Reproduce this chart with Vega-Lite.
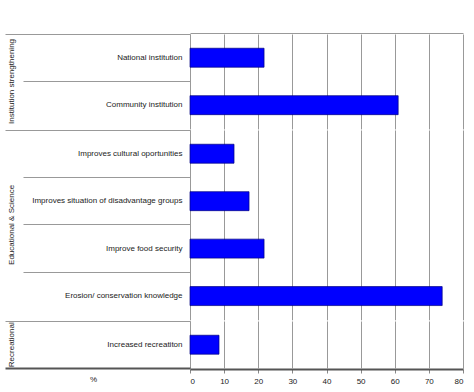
{
  "$schema": "https://vega.github.io/schema/vega-lite/v6.json",
  "padding": {"left": 4, "top": 33, "right": 5, "bottom": 5},
  "background": "white",
  "config": {
    "view": {"stroke": null},
    "font": "Liberation Sans",
    "axis": {"labelFont": "Liberation Sans", "titleFont": "Liberation Sans"}
  },
  "data": {
    "values": [
      {"group": "Institution strengthening", "item": "National institution", "value": 21.7},
      {"group": "Institution strengthening", "item": "Community institution", "value": 61.0},
      {"group": "Educational & Science", "item": "Improves cultural oportunities", "value": 12.9},
      {"group": "Educational & Science", "item": "Improves situation of disadvantage groups", "value": 17.3},
      {"group": "Educational & Science", "item": "Improve food security", "value": 21.7},
      {"group": "Educational & Science", "item": "Erosion/ conservation knowledge", "value": 73.9},
      {"group": "Recreational", "item": "Increased recreatiton", "value": 8.5}
    ]
  },
  "facet": {
    "row": {
      "field": "group",
      "type": "nominal",
      "sort": ["Institution strengthening", "Educational & Science", "Recreational"],
      "title": null,
      "header": {
        "labelAngle": -90,
        "labelOrient": "left",
        "labelPadding": -16,
        "labelFont": "Liberation Sans",
        "labelFontSize": 8,
        "labelColor": "#222"
      }
    }
  },
  "spacing": {"row": 0},
  "resolve": {"scale": {"y": "independent"}},
  "spec": {
    "width": 273,
    "height": {"step": 47.45},
    "layer": [
      {
        "mark": {"type": "bar", "color": "#0000FF", "stroke": "#000080", "strokeWidth": 0.7, "height": {"band": 0.4}},
        "encoding": {
          "x": {
            "field": "value",
            "type": "quantitative",
            "scale": {"domain": [0, 80], "nice": false},
            "axis": {
              "orient": "bottom",
              "values": [0, 10, 20, 30, 40, 50, 60, 70, 80],
              "grid": true,
              "gridColor": "#999",
              "gridWidth": 1,
              "domainColor": "#555",
              "domainWidth": 2,
              "tickColor": "#888",
              "tickSize": 4,
              "labelFontSize": 8,
              "labelColor": "#222",
              "labelPadding": 4,
              "title": "%",
              "titleFontSize": 8,
              "titleFontWeight": "normal",
              "titleColor": "#222",
              "titleX": -97,
              "titleY": 10,
              "titleBaseline": "middle"
            }
          },
          "y": {
            "field": "item",
            "type": "nominal",
            "sort": null,
            "scale": {"paddingInner": 0, "paddingOuter": 0},
            "axis": {
              "orient": "left",
              "title": null,
              "domain": false,
              "bandPosition": 0,
              "tickSize": 167,
              "tickColor": "#999",
              "tickWidth": 1,
              "labelPadding": -159,
              "labelFontSize": 8,
              "labelColor": "#222",
              "labelLimit": 200
            }
          }
        }
      },
      {
        "mark": {"type": "bar", "opacity": 0},
        "encoding": {
          "x": {
            "field": "value",
            "type": "quantitative",
            "axis": {
              "orient": "top",
              "labels": false,
              "ticks": false,
              "grid": false,
              "domainColor": "#999",
              "domainWidth": 1,
              "title": null
            }
          },
          "y": {
            "field": "item",
            "type": "nominal",
            "sort": null,
            "axis": {
              "orient": "left",
              "title": null,
              "domain": false,
              "labels": false,
              "bandPosition": 0,
              "tickSize": 185,
              "tickColor": "#999",
              "tickWidth": 1,
              "tickOpacity": {
                "condition": {
                  "test": "indexof(['National institution','Improves cultural oportunities','Increased recreatiton'], datum.value) >= 0",
                  "value": 1
                },
                "value": 0
              }
            }
          }
        }
      },
      {
        "mark": {"type": "bar", "opacity": 0},
        "encoding": {
          "x": {"field": "value", "type": "quantitative", "axis": null},
          "y": {
            "field": "item",
            "type": "nominal",
            "sort": null,
            "axis": {
              "orient": "left",
              "title": null,
              "domain": false,
              "labels": false,
              "bandPosition": 1,
              "tickSize": 185,
              "tickColor": "#555",
              "tickWidth": 2,
              "tickOpacity": {
                "condition": {"test": "datum.value === 'Increased recreatiton'", "value": 1},
                "value": 0
              }
            }
          }
        }
      }
    ],
    "resolve": {"axis": {"x": "independent", "y": "independent"}}
  }
}
